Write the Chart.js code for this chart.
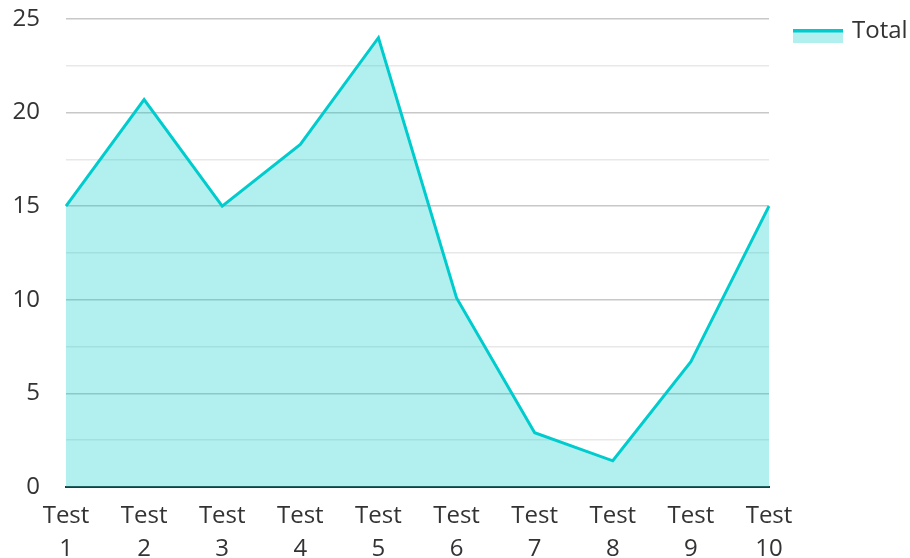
<!DOCTYPE html>
<html lang="en">
<head>
  <meta charset="UTF-8">
  <title>Total per test</title>
  <script src="https://cdn.jsdelivr.net/npm/chart.js"></script>
  <style>
    body {
      margin: 0;
      background: #fff;
    }
    .wrap {
      width: 910px;
      height: 558px;
    }
  </style>
</head>
<body>
  <div class="wrap"><canvas id="myChart"></canvas></div>

  <script>
    const categories = ['Test 1', 'Test 2', 'Test 3', 'Test 4', 'Test 5', 'Test 6', 'Test 7', 'Test 8', 'Test 9', 'Test 10'];
    const totalValues = [15, 20.7, 15, 18.3, 24, 10.1, 2.9, 1.4, 6.7, 15];
    const yTicks = [0, 5, 10, 15, 20, 25];

    const lineColor = 'rgb(0, 204, 206)';
    const fillColor = 'rgba(0, 204, 206, 0.3)';
    const textColor = '#333';
    const fontFamily = '"Open Sans", "Noto Sans", sans-serif';

    // legend on the right: filled swatch with a thick line on top, then the label
    const sideLegend = {
      id: 'sideLegend',
      afterDraw(chart) {
        const ctx = chart.ctx;
        const ds = chart.data.datasets[0];
        const x = chart.chartArea.right + 24;
        const y = 29;
        ctx.save();
        ctx.fillStyle = ds.backgroundColor;
        ctx.fillRect(x, y, 50, 14);
        ctx.strokeStyle = ds.borderColor;
        ctx.lineWidth = 3.5;
        ctx.beginPath();
        ctx.moveTo(x, y + 1.75);
        ctx.lineTo(x + 50, y + 1.75);
        ctx.stroke();
        ctx.fillStyle = textColor;
        ctx.font = '24px ' + fontFamily;
        ctx.textBaseline = 'alphabetic';
        ctx.fillText(ds.label, x + 59, 37.5);
        ctx.restore();
      }
    };

    new Chart(document.getElementById('myChart'), {
      type: 'line',
      data: {
        labels: categories.map(c => c.split(' ')),
        datasets: [{
          label: 'Total',
          data: totalValues,
          borderColor: lineColor,
          backgroundColor: fillColor,
          borderWidth: 3,
          fill: 'origin',
          tension: 0,
          pointRadius: 0,
          pointHoverRadius: 0
        }]
      },
      options: {
        responsive: true,
        maintainAspectRatio: false,
        animation: false,
        layout: {
          padding: { top: 19, right: 141, left: 0, bottom: 0 }
        },
        plugins: {
          legend: { display: false },
          tooltip: { enabled: false }
        },
        scales: {
          x: {
            offset: false,
            afterFit(scale) { scale.height = 71; },
            grid: { display: false, drawTicks: false },
            border: { display: true, color: '#333', width: 2 },
            ticks: {
              color: textColor,
              font: { family: fontFamily, size: 24, lineHeight: 1.4 },
              padding: 12,
              maxRotation: 0,
              autoSkip: false
            }
          },
          y: {
            min: 0,
            max: 25,
            afterFit(scale) {
              scale.width = 66;
              scale.paddingTop = 0;
              scale.paddingBottom = 0;
            },
            afterBuildTicks(scale) {
              const ticks = [];
              for (let v = 0; v <= 25; v += 2.5) ticks.push({ value: v });
              scale.ticks = ticks;
            },
            grid: {
              drawTicks: false,
              color: ctx => (yTicks.includes(ctx.tick.value) ? '#c8c8c8' : '#e8e8e8'),
              lineWidth: 1.5
            },
            border: { display: false },
            ticks: {
              color: textColor,
              font: { family: fontFamily, size: 24 },
              padding: 26,
              callback: v => (yTicks.includes(v) ? v : '')
            }
          }
        }
      },
      plugins: [sideLegend]
    });
  </script>
</body>
</html>
